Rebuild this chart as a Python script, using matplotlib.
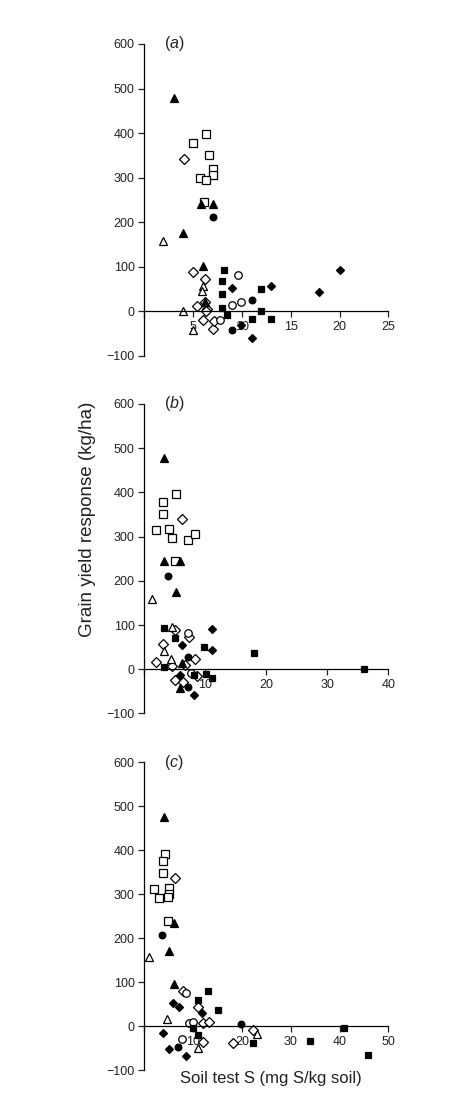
import matplotlib
matplotlib.use("Agg")
import matplotlib.pyplot as plt

plt.rcParams['font.family'] = ['Liberation Sans', 'DejaVu Sans']
plt.rcParams['mathtext.fontset'] = 'custom'
plt.rcParams['mathtext.it'] = 'Liberation Sans:italic'
plt.rcParams['mathtext.rm'] = 'Liberation Sans'

# Panel (a), (soil test S, yield response)
a_tri_filled = [(3.0, 478), (5.8, 240), (7.05, 242), (4.0, 176), (6.0, 102), (6.2, 20)]
a_tri_open = [(1.9, 158), (6.0, 58), (5.9, 45), (4.0, 0), (5.0, -41)]
a_sq_open = [(5.0, 377), (6.3, 398), (6.65, 351), (7.05, 320), (7.05, 306), (5.7, 300), (6.3, 294), (6.1, 246)]
a_dia_open = [(4.05, 342), (5.0, 89), (6.2, 72), (5.4, 13), (6.4, 5), (6.2, 22), (6.0, -20),
              (7.05, -40), (7.1, -22), (6.3, 2)]
a_sq_filled = [(8.2, 92), (7.95, 69), (7.95, 40), (7.95, 7), (8.45, -8), (12.0, 50), (12.0, 0),
               (11.0, -16), (13.0, -18)]
a_dia_filled = [(9.0, 53), (13.0, 58), (17.9, 43), (20.0, 92), (11.0, -60), (9.9, -30)]
a_circ_filled = [(7.05, 211), (11.0, 26), (9.0, -41)]
a_circ_open = [(9.6, 82), (9.0, 15), (9.95, 20), (7.75, -20)]

# Panel (b)
b_tri_filled = [(3.2, 478), (3.2, 245), (5.8, 244), (5.15, 175), (5.8, -43), (6.15, 14)]
b_tri_open = [(1.3, 158), (3.3, 42), (4.35, 23), (4.5, 96)]
b_sq_open = [(3.05, 378), (3.05, 351), (5.2, 396), (2.0, 315), (4.05, 317), (4.55, 298), (7.2, 293),
             (8.25, 307), (5.0, 245)]
b_dia_open = [(6.2, 340), (3.1, 57), (1.95, 16), (8.35, 23), (5.05, -24), (6.4, -28), (7.25, 74),
              (5.05, 89), (4.6, 8), (6.6, 10), (8.6, -15)]
b_sq_filled = [(3.25, 93), (5.05, 70), (9.85, 51), (18.05, 37), (36.05, 0), (3.15, 5), (8.2, -14),
               (10.1, -11), (11.1, -19)]
b_dia_filled = [(11.15, 90), (11.15, 44), (6.25, 55), (8.1, -58), (5.8, -13)]
b_circ_filled = [(3.95, 211), (7.1, 27), (7.1, -41)]
b_circ_open = [(7.1, 82), (7.6, -8)]

# Panel (c)
c_tri_filled = [(3.95, 474), (6.05, 235), (5.1, 170), (6.05, 95)]
c_tri_open = [(1.0, 156), (4.75, 15), (11.05, -51), (23.1, -18)]
c_sq_open = [(4.3, 391), (3.8, 374), (3.8, 347), (1.9, 312), (2.95, 291), (5.1, 314), (5.1, 300),
             (4.8, 294), (4.8, 239)]
c_dia_open = [(6.2, 336), (8.0, 80), (11.05, 44), (11.95, 6), (13.2, 9), (22.2, -8), (18.1, -39),
              (12.1, -36)]
c_sq_filled = [(13.0, 80), (10.9, 59), (15.0, 36), (10.0, -5), (10.9, -20), (22.2, -38), (33.9, -33),
               (40.9, -4), (45.9, -65)]
c_dia_filled = [(5.95, 53), (7.15, 44), (11.9, 30), (3.9, -15), (5.1, -53), (8.45, -68)]
c_circ_filled = [(3.6, 208), (19.75, 5), (6.95, -47)]
c_circ_open = [(8.6, 74), (9.1, 8), (10.0, 9), (7.65, -30)]

panels = [
    ("a", 25, [0, 5, 10, 15, 20, 25],
     [a_sq_open, a_dia_open, a_tri_open, a_circ_open, a_sq_filled, a_dia_filled, a_tri_filled, a_circ_filled]),
    ("b", 40, [0, 10, 20, 30, 40],
     [b_sq_open, b_dia_open, b_tri_open, b_circ_open, b_sq_filled, b_dia_filled, b_tri_filled, b_circ_filled]),
    ("c", 50, [0, 10, 20, 30, 40, 50],
     [c_sq_open, c_dia_open, c_tri_open, c_circ_open, c_sq_filled, c_dia_filled, c_tri_filled, c_circ_filled]),
]

# marker, size, filled
styles = [("s", 5.6, False), ("D", 4.6, False), ("^", 6.0, False), ("o", 5.4, False),
          ("s", 5.0, True), ("D", 4.2, True), ("^", 6.0, True), ("o", 4.8, True)]

fig = plt.figure(figsize=(4.74, 10.96), dpi=100)
boxes = [(0.3044, 0.6752, 0.515, 0.2847),
         (0.3044, 0.3490, 0.515, 0.2824),
         (0.3044, 0.0237, 0.515, 0.2810)]

for (letter, xmax, xticks, groups), box in zip(panels, boxes):
    ax = fig.add_axes(box)
    for pts, (mk, ms, filled) in zip(groups, styles):
        xs = [p[0] for p in pts]
        ys = [p[1] for p in pts]
        ax.plot(xs, ys, linestyle="none", marker=mk, markersize=ms,
                markerfacecolor="black" if filled else "white",
                markeredgecolor="black", markeredgewidth=0.9, clip_on=False)
    ax.set_xlim(0, xmax)
    ax.set_ylim(-100, 600)
    ax.spines["top"].set_visible(False)
    ax.spines["right"].set_visible(False)
    ax.spines["bottom"].set_position(("data", 0))
    ax.spines["left"].set_linewidth(0.9)
    ax.spines["bottom"].set_linewidth(0.9)
    ax.set_yticks([-100, 0, 100, 200, 300, 400, 500, 600])
    ax.set_yticklabels(["\u2212100", "0", "100", "200", "300", "400", "500", "600"])
    ax.set_xticks(xticks)
    ax.set_xticklabels([""] + [str(t) for t in xticks[1:]])
    ax.tick_params(axis="both", direction="out", length=4, width=0.9, labelsize=9,
                   colors="#222222", pad=3)
    ax.patch.set_visible(False)
    ax.text(0.08, 1.0, "($\\mathit{%s}$)" % letter, transform=ax.transAxes,
            fontsize=11.5, ha="left", va="center", color="#222222")

fig.text(87 / 474, 1 - 519 / 1096, "Grain yield response (kg/ha)", rotation=90,
         ha="center", va="center", fontsize=13.5, color="#222222")
fig.text(271 / 474, 1 - 1078 / 1096, "Soil test S (mg S/kg soil)",
         ha="center", va="center", fontsize=12, color="#222222")

fig.savefig("out.png", dpi=100)
